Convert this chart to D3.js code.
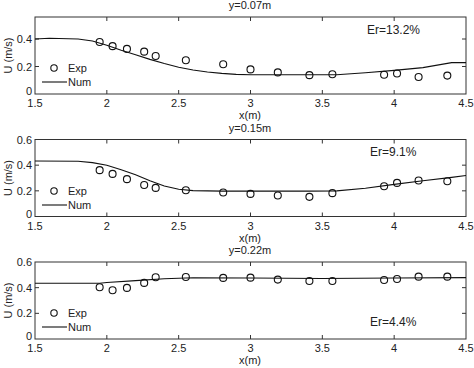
<!DOCTYPE html>
<meta charset="utf-8">
<style>
  body { margin: 0; background: #fff; }
  text { font-family: "Liberation Sans", Arial, sans-serif; fill: #222; }
</style>
<svg width="474" height="368"></svg>
<script src="https://d3js.org/d3.v7.min.js"></script>
<script>
// measurement positions (m)
var xExp = [1.95, 2.04, 2.14, 2.26, 2.34, 2.55, 2.81, 3.0, 3.19, 3.41, 3.57, 3.93, 4.02, 4.17, 4.37]

var exp1 = [0.378, 0.348, 0.328, 0.308, 0.276, 0.246, 0.216, 0.179, 0.157, 0.137, 0.144, 0.14, 0.149, 0.124, 0.134]
var exp2 = [0.361, 0.332, 0.291, 0.246, 0.223, 0.205, 0.187, 0.176, 0.164, 0.153, 0.182, 0.236, 0.262, 0.281, 0.275]
var exp3 = [0.403, 0.38, 0.398, 0.437, 0.481, 0.483, 0.476, 0.478, 0.463, 0.452, 0.452, 0.46, 0.468, 0.486, 0.486]

var xNum1 = [1.5, 1.6, 1.8, 1.9, 2.0, 2.1, 2.2, 2.3, 2.4, 2.5, 2.6, 2.7, 2.8, 2.9, 3.0, 3.6, 3.8, 4.0, 4.2, 4.4, 4.5]
var num1  = [0.40, 0.405, 0.40, 0.385, 0.355, 0.318, 0.285, 0.252, 0.222, 0.195, 0.175, 0.16, 0.15, 0.143, 0.14, 0.14, 0.155, 0.172, 0.192, 0.228, 0.228]

var xNum2 = [1.5, 1.8, 1.9, 2.0, 2.1, 2.2, 2.3, 2.4, 2.5, 2.6, 2.8, 3.4, 3.6, 3.8, 4.0, 4.2, 4.4, 4.5]
var num2  = [0.433, 0.43, 0.42, 0.40, 0.365, 0.325, 0.278, 0.238, 0.212, 0.202, 0.198, 0.198, 0.2, 0.22, 0.25, 0.278, 0.305, 0.32]

var xNum3 = [1.5, 1.95, 2.0, 2.2, 2.4, 2.6, 3.0, 3.5, 4.0, 4.5]
var num3  = [0.435, 0.435, 0.44, 0.455, 0.47, 0.477, 0.475, 0.472, 0.475, 0.478]

var titles = ["y=0.07m", "y=0.15m", "y=0.22m"]
var errors = ["Er=13.2%", "Er=9.1%", "Er=4.4%"]
var xTicks = [1.5, 2, 2.5, 3, 3.5, 4, 4.5]
var yTicks = [0, 0.2, 0.4, 0.6]

var svg = d3.select('svg')

var panels = [
  { top: 17, bottom: 94, ymax: 0.56, exp: exp1, nx: xNum1, ny: num1, er: [367, 34], leg: 68 },
  { top: 139.5, bottom: 216.5, ymax: 0.6, exp: exp2, nx: xNum2, ny: num2, er: [370, 156], leg: 191 },
  { top: 262, bottom: 339, ymax: 0.6, exp: exp3, nx: xNum3, ny: num3, er: [370, 326], leg: 313 }
]

var x = d3.scaleLinear().domain([1.5, 4.5]).range([35, 466])

panels.forEach(function (p, i) {
  var y = d3.scaleLinear().domain([0, p.ymax]).range([p.bottom, p.top])
  var g = svg.append('g')
  var ticksY = yTicks.filter(function (t) { return t <= p.ymax + 1e-9 })

  g.append('rect')
    .attr('x', x(1.5)).attr('y', p.top)
    .attr('width', x(4.5) - x(1.5)).attr('height', p.bottom - p.top)
    .attr('fill', 'none').attr('stroke', '#333').attr('stroke-width', 1)

  // inner ticks on all four sides
  xTicks.slice(1, -1).forEach(function (t) {
    g.append('line').attr('x1', x(t)).attr('x2', x(t)).attr('y1', p.bottom).attr('y2', p.bottom - 4).attr('stroke', '#333')
    g.append('line').attr('x1', x(t)).attr('x2', x(t)).attr('y1', p.top).attr('y2', p.top + 4).attr('stroke', '#333')
  })
  ticksY.forEach(function (t) {
    if (y(t) <= p.top + 1 || y(t) >= p.bottom - 1) return
    g.append('line').attr('x1', x(1.5)).attr('x2', x(1.5) + 4).attr('y1', y(t)).attr('y2', y(t)).attr('stroke', '#333')
    g.append('line').attr('x1', x(4.5)).attr('x2', x(4.5) - 4).attr('y1', y(t)).attr('y2', y(t)).attr('stroke', '#333')
  })

  g.selectAll('.xt').data(xTicks).enter().append('text')
    .attr('x', function (d) { return x(d) }).attr('y', p.bottom + 13)
    .attr('text-anchor', 'middle').attr('font-size', 11)
    .text(function (d) { return d })
  g.selectAll('.yt').data(ticksY).enter().append('text')
    .attr('x', 32).attr('y', function (d) { return d === 0 ? y(d) + 1 : y(d) + 4 })
    .attr('text-anchor', 'end').attr('font-size', 11)
    .text(function (d) { return d })

  g.append('text').attr('x', 250).attr('y', p.bottom + 25)
    .attr('text-anchor', 'middle').attr('font-size', 11).text('x(m)')
  g.append('text').attr('x', 250).attr('y', p.top - 8)
    .attr('text-anchor', 'middle').attr('font-size', 11).text(titles[i])
  g.append('text')
    .attr('transform', 'translate(12,' + ((p.top + p.bottom) / 2) + ') rotate(-90)')
    .attr('text-anchor', 'middle').attr('font-size', 11).text('U (m/s)')
  g.append('text').attr('x', p.er[0]).attr('y', p.er[1])
    .attr('font-size', 12).text(errors[i])

  var line = d3.line()
    .x(function (d) { return x(d[0]) })
    .y(function (d) { return y(d[1]) })
  g.append('path')
    .datum(d3.zip(p.nx, p.ny))
    .attr('d', line).attr('fill', 'none').attr('stroke', '#111').attr('stroke-width', 1.1)

  g.selectAll('.pt').data(d3.zip(xExp, p.exp)).enter().append('circle')
    .attr('cx', function (d) { return x(d[0]) })
    .attr('cy', function (d) { return y(d[1]) })
    .attr('r', 3.5).attr('fill', 'none').attr('stroke', '#111').attr('stroke-width', 1.1)

  // legend
  g.append('circle').attr('cx', 54).attr('cy', p.leg).attr('r', 3.2)
    .attr('fill', 'none').attr('stroke', '#111').attr('stroke-width', 1.1)
  g.append('text').attr('x', 68).attr('y', p.leg + 4).attr('font-size', 11).text('Exp')
  g.append('line').attr('x1', 42).attr('x2', 67).attr('y1', p.leg + 14).attr('y2', p.leg + 14)
    .attr('stroke', '#111').attr('stroke-width', 1.1)
  g.append('text').attr('x', 68).attr('y', p.leg + 18).attr('font-size', 11).text('Num')
})
</script>
